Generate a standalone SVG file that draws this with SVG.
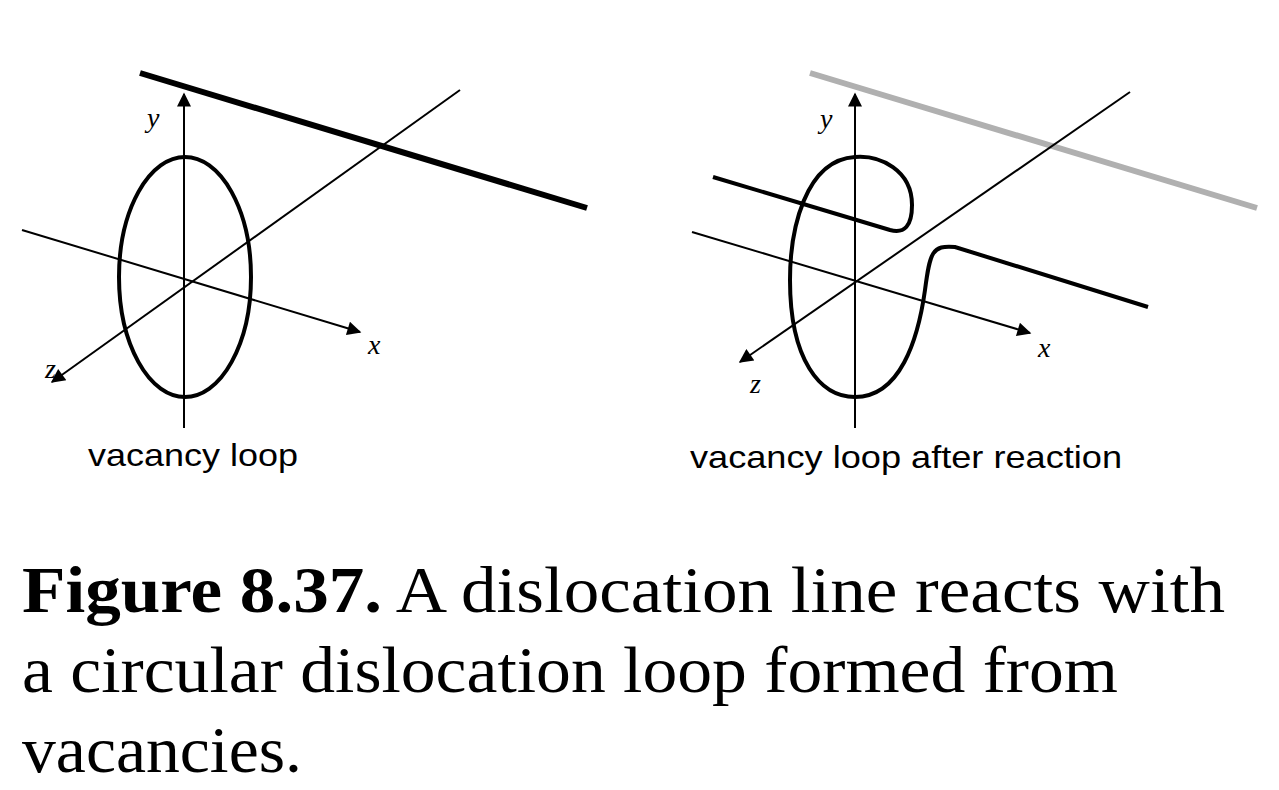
<svg xmlns="http://www.w3.org/2000/svg" width="1279" height="790" viewBox="0 0 1279 790">
<defs>
<marker id="ar2" viewBox="0 0 10 10" refX="9" refY="5" markerWidth="38" markerHeight="14" orient="auto" markerUnits="userSpaceOnUse"><path d="M0,0 L10,5 L0,10 z" fill="#000"/></marker></defs>
<style>.ax{stroke:#000;stroke-width:2;fill:none}.lp{stroke:#000;stroke-width:4;fill:none}.lb{font-family:"Liberation Serif",serif;font-style:italic;font-size:28px}.cap{font-family:"Liberation Sans",sans-serif;font-size:32px}.fig{font-family:"Liberation Serif",serif;font-size:66px}</style>
<rect width="1279" height="790" fill="#fff"/>
<g id="left">
<line class="ax" x1="184" y1="428" x2="184" y2="94" marker-end="url(#ar2)"/>
<line class="ax" x1="22" y1="230" x2="360" y2="332" marker-end="url(#ar2)"/>
<line class="ax" x1="460" y1="90" x2="52" y2="382" marker-end="url(#ar2)"/>
<ellipse class="lp" cx="185" cy="277" rx="66" ry="120"/>
<line x1="140" y1="73" x2="587" y2="208" stroke="#000" stroke-width="6"/>
<text class="lb" x="147" y="127">y</text><text class="lb" x="368" y="354">x</text><text class="lb" x="45" y="378">z</text>
<text class="cap" x="88" y="466" textLength="210" lengthAdjust="spacingAndGlyphs">vacancy loop</text>
</g>
<g id="right">
<line x1="810" y1="73" x2="1257" y2="208" stroke="#b0b0b0" stroke-width="6"/>
<line class="ax" x1="855" y1="428" x2="855" y2="94" marker-end="url(#ar2)"/>
<line class="ax" x1="692" y1="232" x2="1030" y2="333" marker-end="url(#ar2)"/>
<line class="ax" x1="1130" y1="92" x2="740" y2="362" marker-end="url(#ar2)"/>
<path class="lp" d="M713,177 L890,230 Q912,236 912,205 C912,170 880,155 855,157 C805,160 790,230 790,280 C790,360 820,397 855,397 C900,397 918,340 925,290 C930,252 932,245 955,247 L1148,307"/>
<text class="lb" x="820" y="128">y</text><text class="lb" x="1038" y="357">x</text><text class="lb" x="750" y="393">z</text>
<text class="cap" x="690" y="468" textLength="432" lengthAdjust="spacingAndGlyphs">vacancy loop after reaction</text>
</g>
<g id="caption">
<text class="fig" x="22" y="612" textLength="1203" lengthAdjust="spacingAndGlyphs"><tspan font-weight="bold">Figure 8.37.</tspan>  A dislocation line reacts with</text>
<text class="fig" x="22" y="692" textLength="1096" lengthAdjust="spacingAndGlyphs">a circular dislocation loop formed from</text>
<text class="fig" x="22" y="772" textLength="280" lengthAdjust="spacingAndGlyphs">vacancies.</text>
</g>
</svg>
